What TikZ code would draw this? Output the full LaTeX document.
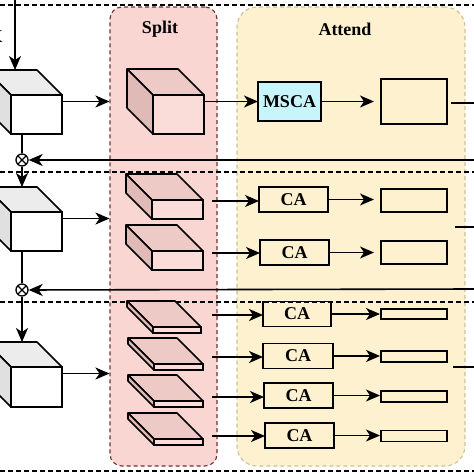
\documentclass[tikz,border=0pt]{standalone}
\usepackage{fontspec}
\setmainfont{Liberation Serif}
\usetikzlibrary{arrows.meta,positioning}
\definecolor{splitFill}{RGB}{249,214,210}
\definecolor{splitLine}{RGB}{112,52,52}
\definecolor{attendFill}{RGB}{254,241,207}
\definecolor{attendLine}{RGB}{204,194,150}
\definecolor{mscaFill}{RGB}{200,245,252}
\definecolor{greyTop}{RGB}{236,236,236}
\definecolor{greySide}{RGB}{224,224,224}
\definecolor{pinkFront}{RGB}{250,220,216}
\definecolor{pinkTop}{RGB}{238,202,198}
\definecolor{pinkSide}{RGB}{224,186,183}

\begin{document}
\begin{tikzpicture}
[x=1pt,y=-1pt,
  lineDecorate/.style={-,line width=1.6pt},%
  arrowDecorate/.style={-{Stealth[length=14pt,width=12pt,inset=4pt]},line width=1.6pt},%
  sepDecorate/.style={dash pattern=on 5pt off 3pt,line width=1.8pt},%
  boxDecorate/.style={shape=rectangle,draw,line width=1.6pt,inner sep=0pt,outer sep=0pt},%
  faceDecorate/.style={line width=1.6pt,line join=round},%
  labelDecorate/.style={font=\fontsize{18}{20}\selectfont\bfseries},%
  mulDecorate/.style={shape=circle,draw,line width=1.3pt,minimum size=12pt,inner sep=0pt,fill=white,
    path picture={\draw[line width=1.3pt] (path picture bounding box.north west) -- (path picture bounding box.south east)
      (path picture bounding box.north east) -- (path picture bounding box.south west);}}]
\useasboundingbox (0,0) rectangle (474,474);
%% background panels
\node (splitbox) at (163.5,236.5) [shape=rectangle,rounded corners=12pt,draw=splitLine,fill=splitFill,
  dash pattern=on 4pt off 3pt,line width=1.1pt,minimum width=107pt,minimum height=459pt] {};
\node (attendbox) at (351,236.5) [shape=rectangle,rounded corners=20pt,draw=attendLine,fill=attendFill,
  dash pattern=on 4pt off 3pt,line width=1.1pt,minimum width=228pt,minimum height=459pt] {};
\node (splitlabel) at (160,29) [labelDecorate] {Split};
\node (attendlabel) at (345,29) [labelDecorate] {Attend};
\node (xlabel) at (-4,37) [labelDecorate] {X};
%% separators
\draw[sepDecorate,line width=1.1pt] (0,5) -- (474,5);
\foreach \y in {172,302,471}
{
  \draw[sepDecorate] (0,\y) -- (474,\y);
}
%% grey input cubes
\foreach \cubename/\x/\y/\w/\h/\d in {c1/11/95/51/39/25, c2/11/212/51/39/25, c3/11/367/51/40/25}
{
  \node (\cubename) at (\x,\y) [boxDecorate,fill=white,anchor=north west,minimum width=\w pt,minimum height=\h pt] {};
  \coordinate (\cubename-back) at (\x-\d,\y-\d);
  \coordinate (\cubename-out) at ([yshift=-6.5pt]\cubename.north east);
  \filldraw[faceDecorate,fill=greyTop] (\cubename.north west) -- (\cubename-back) -- ++(\w,0) -- (\cubename.north east) -- cycle;
  \filldraw[faceDecorate,fill=greySide] (\cubename.north west) -- (\cubename-back) -- ++(0,\h) -- (\cubename.south west) -- cycle;
}
%% split cubes and slabs
\foreach \cubename/\x/\y/\w/\h/\d in {s1/153/95/51/39/26, s2a/152/200/51/19/26, s2b/152/251/51/19/26,
  s3a/153/327/48/6/26, s3b/154/364/49/6/26, s3c/154/401/49/6/26, s3d/154/439/49/6/26}
{
  \node (\cubename) at (\x,\y) [boxDecorate,fill=pinkFront,anchor=north west,minimum width=\w pt,minimum height=\h pt] {};
  \coordinate (\cubename-back) at (\x-\d,\y-\d);
  \filldraw[faceDecorate,fill=pinkTop] (\cubename.north west) -- (\cubename-back) -- ++(\w,0) -- (\cubename.north east) -- cycle;
  \filldraw[faceDecorate,fill=pinkSide] (\cubename.north west) -- (\cubename-back) -- ++(0,\h) -- (\cubename.south west) -- cycle;
}
\coordinate (s1-out) at ([yshift=-6.5pt]s1.north east);
%% attention blocks
\node (msca) at (289.5,101.5) [boxDecorate,fill=mscaFill,labelDecorate,minimum width=63pt,minimum height=39pt] {MSCA};
\foreach \nodename/\x/\y/\w in {ca2a/293.5/199.5/69, ca2b/294.5/252.5/69, ca3a/297/314/68,
  ca3b/298/356/70, ca3c/298.5/395.5/69, ca3d/299.5/435.5/69}
{
  \node (\nodename) at (\x,\y) [boxDecorate,labelDecorate,minimum width=\w pt,minimum height=25pt] {CA};
}
%% outputs
\foreach \nodename/\y/\h in {o1/101.5/45, o2a/200.5/23, o2b/252.5/23, o3a/314/10, o3b/356.5/11, o3c/396.5/11, o3d/436/11}
{
  \node (\nodename) at (414,\y) [boxDecorate,minimum width=66pt,minimum height=\h pt] {};
}
%% multipliers
\node (m1) at (22,160) [mulDecorate] {};
\node (m2) at (22,290) [mulDecorate] {};
%% edges or lines
\coordinate (xin) at (15,0);
\draw[arrowDecorate] (xin) -- (xin |- c1-back);
\foreach \cubename in {c1,c2,c3}
{
  \draw[arrowDecorate] (\cubename-out) -- (\cubename-out -| splitbox.west);
}
\draw[arrowDecorate] (s1-out) -- (s1-out -| msca.west);
\foreach \startname/\endname/\y in {s2a/ca2a/201, s2b/ca2b/253, s3a/ca3a/315, s3b/ca3b/357, s3c/ca3c/397, s3d/ca3d/436}
{
  \coordinate (\startname-out) at (212,\y);
  \draw[arrowDecorate] (\startname-out) -- (\startname-out -| \endname.west);
}
\foreach \startname/\endname/\gap in {msca/o1/7, ca2a/o2a/7, ca2b/o2b/7, ca3a/o3a/1, ca3b/o3b/1, ca3c/o3c/1, ca3d/o3d/1}
{
  \draw[arrowDecorate,shorten >=\gap pt] (\startname.east) -- (\startname.east -| \endname.west);
}
\foreach \startname/\x/\y in {r1/451/103, r2/455/227, r3/453/367}
{
  \coordinate (\startname) at (\x,\y);
  \coordinate (\startname-end) at (474,\y);
  \draw[lineDecorate] (\startname) -- (\startname-end);
}
%% feedback
\coordinate (f1) at (474,160);
\coordinate (f2) at (474,289);
\draw[arrowDecorate] (f1) -- (m1);
\draw[arrowDecorate] (f2) -- (m2);
\draw[lineDecorate] (m1 |- c1.south) -- (m1);
\draw[arrowDecorate] (m1) -- (m1 |- c2-back);
\draw[lineDecorate] (m2 |- c2.south) -- (m2);
\draw[arrowDecorate] (m2) -- (m2 |- c3-back);
\end{tikzpicture}
\end{document}
